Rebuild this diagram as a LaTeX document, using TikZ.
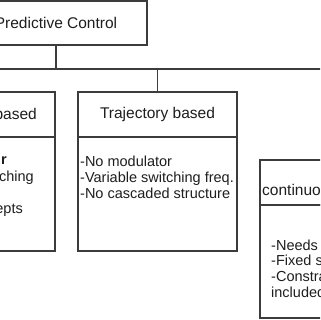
\documentclass[tikz,border=0pt]{standalone}
\usepackage{fontspec}
\setmainfont{Liberation Sans}
\usetikzlibrary{positioning}
\definecolor{line1}{HTML}{3C3C3C}
\definecolor{ink1}{HTML}{1E1E1E}

\tikzset{
  frame/.style={draw=line1, line width=1.3pt, fill=white, inner sep=0pt},
  headtext/.style={text=ink1, font=\fontsize{15.5}{17}\selectfont, inner sep=0pt},
  bodytext/.style={text=ink1, font=\fontsize{14.5}{15.7}\selectfont, align=left, inner sep=0pt},
  link/.style={draw=line1, line width=1.3pt}
}

\begin{document}
\begin{tikzpicture}[x=1pt,y=-1pt]
\useasboundingbox (0,0) rectangle (320,320);
\clip (0,0) rectangle (320,320);

% top box and bus
\node[frame, headtext, minimum width=182pt, minimum height=44pt] (mpc) at (56,23) {Predictive Control};
\coordinate (busL) at (-10,69);
\coordinate (busR) at (330,69);
\draw[link] (busL) -- (busR);
\draw[link] (mpc.south) -- (mpc.south |- busL);

% left box
\node[frame, minimum width=159pt, minimum height=45pt] (hysthead) at (-24.5,114.5) {};
\node[frame, minimum width=159pt, minimum height=114pt] (hystbody) at (-24.5,194) {};
\node[headtext, anchor=base east] (hysttitle) at (37,120) {based};
\node[bodytext, anchor=base east] (hyst1) at (7,164) {\textbf{r}};
\node[bodytext, anchor=base east] (hyst2) at (34,181.5) {ching};
\node[bodytext, anchor=base east] (hyst3) at (23,213.5) {epts};

% trajectory box
\node[frame, headtext, minimum width=159pt, minimum height=45pt] (trajhead) at (157.5,114.5) {Trajectory based};
\node[frame, minimum width=159pt, minimum height=114pt] (trajbody) at (157.5,194) {};
\node[bodytext, anchor=north west] (trajtext) at (80,156) {-No modulator\\-Variable switching freq.\\-No cascaded structure};
\draw[link] (trajhead.north) -- (trajhead.north |- busL);

% continuous box
\node[frame, minimum width=159pt, minimum height=45pt] (conthead) at (339.5,182.5) {};
\node[frame, minimum width=159pt, minimum height=113pt] (contbody) at (339.5,261.5) {};
\node[headtext, anchor=base west] (conttitle) at (262,195) {continuo};
\node[bodytext, anchor=north west] (conttext) at (271,239.5) {-Needs\\-Fixed s\\-Constra\\included};
\end{tikzpicture}
\end{document}
